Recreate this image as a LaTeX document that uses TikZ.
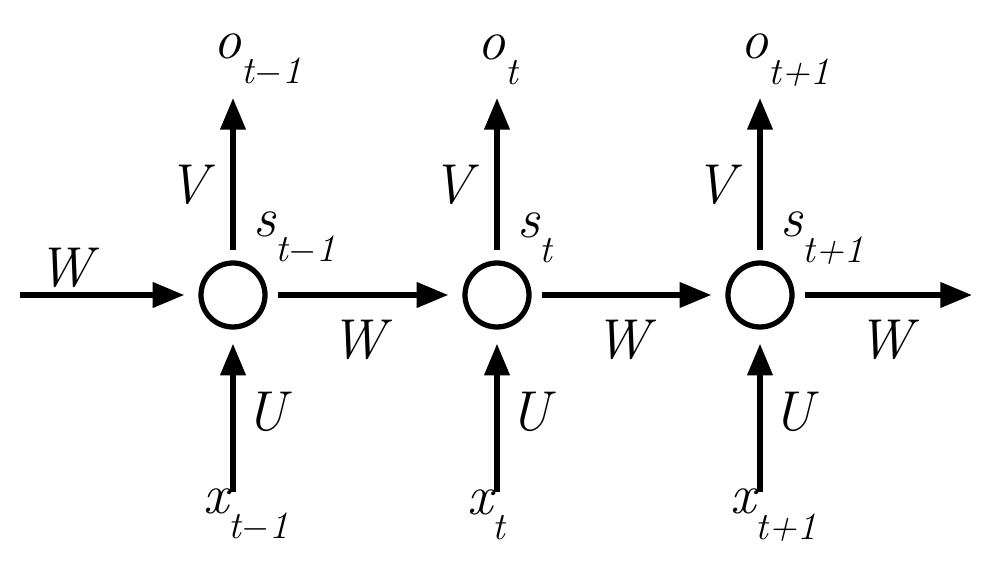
\documentclass[tikz,border=0pt]{standalone}
\usetikzlibrary{arrows.meta}
\newcommand{\sub}[2]{\textit{#1}\raisebox{-0.45em}{\fontsize{22}{23}\selectfont\textit{#2}}}
\begin{document}
\begin{tikzpicture}[x=0.02cm,y=-0.02cm,
  arr/.style={line width=3pt,-{Triangle[length=18pt,width=14pt]},shorten <=6pt},
  arrin/.style={arr,shorten <=0pt,shorten >=8pt},
  cell/.style={circle,draw,line width=3pt,minimum size=64*0.02cm,inner sep=0},
  lbl/.style={font=\fontsize{32}{34}\selectfont\itshape,inner sep=0}]
\useasboundingbox (0,0) rectangle (998,574);
\node[cell] (c1) at (233,295) {};
\node[cell] (c2) at (497,295) {};
\node[cell] (c3) at (760,295) {};
\coordinate (in) at (20,295);
\coordinate (out) at (972,295);
\draw[arrin] (in) -- (c1);
\draw[arr,shorten >=8pt] (c1) -- (c2);
\draw[arr,shorten >=8pt] (c2) -- (c3);
\draw[arr] (c3) -- (out);
\foreach \i/\x/\s in {1/233/t$-$1,2/497/t,3/760/t+1}{
  \coordinate (top\i) at (\x,98);
  \coordinate (bot\i) at (\x,492);
  \draw[arr] (c\i) -- (top\i);
  \draw[arrin] (bot\i) -- (c\i);
  \node[lbl,anchor=west] (o\i) at (\x-20,60) {\sub{o}{\s}};
  \node[lbl,anchor=west] (x\i) at (\x-30,515) {\sub{x}{\s}};
  \node[lbl,anchor=west] (s\i) at (\x+20,238) {\sub{s}{\s}};
  \node[lbl] (V\i) at (\x-45,185) {V};
  \node[lbl] (U\i) at (\x+33,412) {U};
  \node[lbl] (W\i) at (\x+125,340) {W};
}
\node[lbl] (W0) at (65,268) {W};
\end{tikzpicture}
\end{document}
